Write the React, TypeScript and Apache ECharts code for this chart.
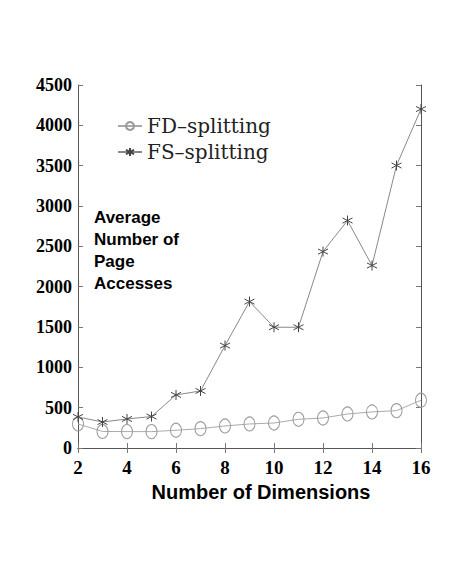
import React, { useEffect, useRef } from 'react'
import * as echarts from 'echarts'

const dimensions = [2, 3, 4, 5, 6, 7, 8, 9, 10, 11, 12, 13, 14, 15, 16]
const fdSplitting = [298, 205, 203, 203, 220, 240, 273, 298, 310, 356, 372, 422, 447, 463, 592]
const fsSplitting = [385, 322, 360, 390, 658, 707, 1270, 1815, 1497, 1497, 2435, 2820, 2262, 3502, 4202]

const yTitle = 'Average\nNumber of\nPage\nAccesses'
const xTitle = 'Number of Dimensions'

const star = 'path://M0,-5L0,5M-4.5,-2.6L4.5,2.6M-4.5,2.6L4.5,-2.6'

const App = () => {
  const chartRef = useRef<HTMLDivElement>(null)

  useEffect(() => {
    if (!chartRef.current) return
    const chart = echarts.init(chartRef.current, null, { renderer: 'svg' })

    const axisLine = { lineStyle: { color: '#555', width: 1 } }
    const inTicks = { inside: true, length: 5, lineStyle: { color: '#777' } }

    chart.setOption({
      animation: false,
      backgroundColor: '#fff',
      grid: { left: 78, right: 53, top: 85, bottom: 117 },
      legend: {
        orient: 'vertical',
        left: 112,
        top: 111,
        itemGap: 6,
        itemWidth: 24,
        itemHeight: 10,
        textStyle: { fontFamily: 'DejaVu Serif', fontSize: 20, color: '#222' },
        data: ['FD\u2013splitting', 'FS\u2013splitting'],
      },
      xAxis: [
        {
          type: 'value',
          min: 2,
          max: 16,
          interval: 2,
          axisLine,
          axisTick: inTicks,
          splitLine: { show: false },
          axisLabel: {
            fontFamily: 'Liberation Serif',
            fontWeight: 'bold',
            fontSize: 19,
            color: '#000',
            margin: 10,
          },
          name: xTitle,
          nameLocation: 'middle',
          nameGap: 28,
          nameTextStyle: {
            fontFamily: 'Liberation Sans',
            fontWeight: 'bold',
            fontSize: 20,
            color: '#000',
            padding: [0, 0, 0, 23],
          },
        },
        {
          type: 'value',
          position: 'top',
          min: 2,
          max: 16,
          interval: 2,
          axisLine,
          axisTick: inTicks,
          axisLabel: { show: false },
          splitLine: { show: false },
        },
      ],
      yAxis: [
        {
          type: 'value',
          min: 0,
          max: 4500,
          interval: 500,
          axisLine: { show: true, ...axisLine },
          axisTick: { show: true, ...inTicks },
          splitLine: { show: false },
          axisLabel: {
            formatter: (v: number) => String(v),
            fontFamily: 'Liberation Serif',
            fontWeight: 'bold',
            fontSize: 18,
            color: '#000',
            margin: 6,
          },
        },
        {
          type: 'value',
          position: 'right',
          min: 0,
          max: 4500,
          interval: 500,
          axisLine: { show: true, ...axisLine },
          axisTick: { show: true, ...inTicks },
          axisLabel: { show: false },
          splitLine: { show: false },
        },
      ],
      graphic: [
        {
          type: 'text',
          left: 94,
          top: 206,
          style: {
            text: yTitle,
            font: 'bold 17px "Liberation Sans"',
            lineHeight: 22,
            fill: '#000',
          },
        },
      ],
      series: [
        {
          name: 'FD\u2013splitting',
          type: 'line',
          data: dimensions.map((d, i) => [d, fdSplitting[i]]),
          symbol: 'circle',
          symbolSize: [11, 14],
          lineStyle: { color: '#aaa', width: 1 },
          itemStyle: { color: 'rgba(255,255,255,0)', borderColor: '#999', borderWidth: 1 },
        },
        {
          name: 'FS\u2013splitting',
          type: 'line',
          data: dimensions.map((d, i) => [d, fsSplitting[i]]),
          symbol: star,
          symbolSize: 10,
          lineStyle: { color: '#888', width: 1 },
          itemStyle: { color: 'none', borderColor: '#444', borderWidth: 1 },
        },
      ],
    })

    return () => {
      chart.dispose()
    }
  }, [])

  return (
    <div
      ref={chartRef}
      style={{ position: 'fixed', left: 0, top: 0, width: 474, height: 565 }}
    />
  )
}

export default App
